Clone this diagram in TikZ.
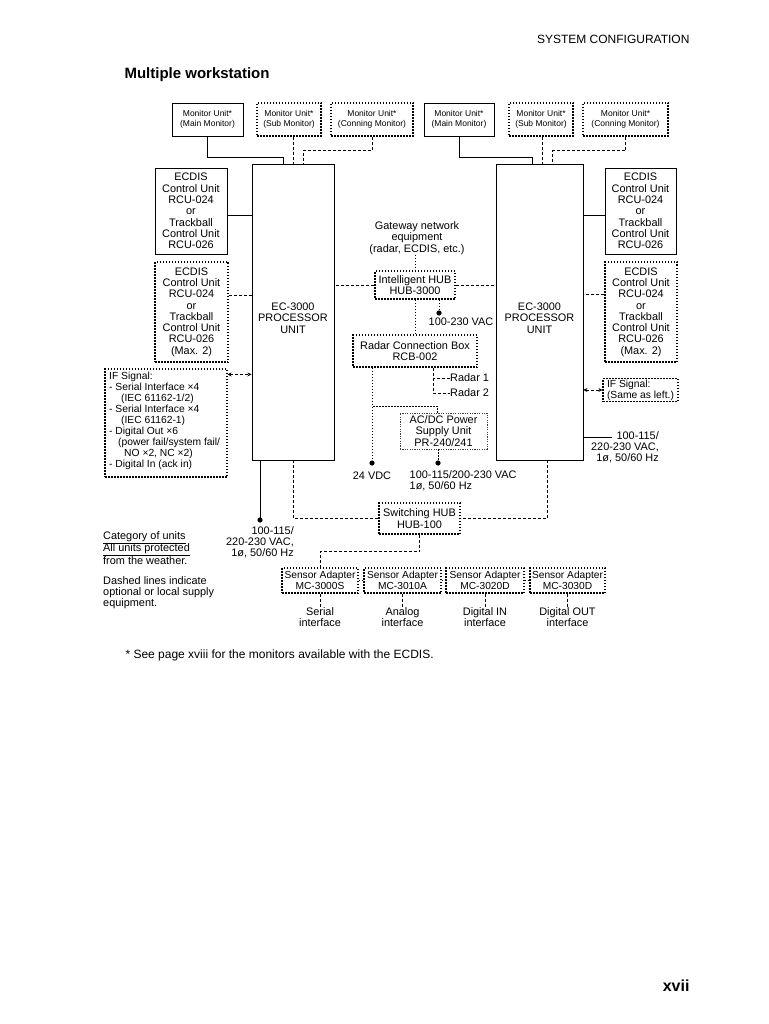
\documentclass[tikz,border=0pt]{standalone}
\usepackage{fontspec}
\setmainfont{Liberation Sans}
\usetikzlibrary{arrows.meta, positioning, calc}
\newcommand{\unitfont}{\fontsize{10.9}{11.3}\selectfont}
\newcommand{\monfont}{\fontsize{8.5}{9.6}\selectfont}

\begin{document}
\begin{tikzpicture}[
    x=1pt, y=-1pt,
    >={Stealth[length=4pt, width=4pt]},
    unitbox/.style={draw, line width=0.9pt, font=\unitfont, align=center, inner sep=1pt},
    optbox/.style={unitbox, line width=1.1pt, dash pattern=on 1.5pt off 1.5pt},
    monbox/.style={#1, font=\monfont, minimum height=33pt},
    sensbox/.style={optbox, inner sep=0pt, font=\fontsize{10.2}{11.2}\selectfont, minimum height=25pt},
    wire/.style={line width=0.9pt},
    dline/.style={line width=0.9pt, dash pattern=on 3pt off 2pt},
    dotline/.style={line width=0.9pt, dash pattern=on 1.5pt off 1.5pt},
    txt/.style={font=\unitfont, align=center, inner sep=0pt},
]
    \fill[white] (0,0) rectangle (768,1024);
    \useasboundingbox (0,0) rectangle (768,1024);

    % Page head
    \node[anchor=base east, font=\fontsize{12}{14}\selectfont] (hdr) at (693,44) {SYSTEM CONFIGURATION};
    \node[anchor=base west, font=\bfseries\fontsize{15}{18}\selectfont] (ttl) at (121,79) {Multiple workstation};

    % Monitors
    \node[monbox=unitbox, minimum width=71pt] (lmain) at (207.5,119.5) {Monitor Unit*\\(Main Monitor)};
    \node[monbox=optbox, minimum width=64pt] (lsub) at (289,119.5) {Monitor Unit*\\(Sub Monitor)};
    \node[monbox=optbox, minimum width=82pt] (lcon) at (372,119.5) {Monitor Unit*\\(Conning Monitor)};
    \node[monbox=unitbox, minimum width=70pt] (rmain) at (459,119.5) {Monitor Unit*\\(Main Monitor)};
    \node[monbox=optbox, minimum width=64pt] (rsub) at (541,119.5) {Monitor Unit*\\(Sub Monitor)};
    \node[monbox=optbox, minimum width=85pt] (rcon) at (625.5,119.5) {Monitor Unit*\\(Conning Monitor)};

    % Processor units
    \node[unitbox, minimum width=82pt, minimum height=296pt] (lproc) at (293,312) {};
    \node[txt] at (293,318) {EC-3000\\PROCESSOR\\UNIT};
    \node[unitbox, minimum width=87pt, minimum height=296pt] (rproc) at (539.5,312) {};
    \node[txt] at (539.5,318) {EC-3000\\PROCESSOR\\UNIT};

    \draw[wire] (lmain.south) -- ++(0,21) -| ([xshift=-10pt]lproc.north);
    \draw[dline] (lproc.north |- lsub.south) -- (lproc.north);
    \draw[dline] (lcon.south) -- ++(0,14) -| ([xshift=10pt]lproc.north);
    \draw[wire] (rmain.south) -- ++(0,21) -| ([xshift=-7pt]rproc.north);
    \draw[dline] ([xshift=3pt]rproc.north |- rsub.south) -- ([xshift=3pt]rproc.north);
    \draw[dline] (rcon.south) -- ++(0,14) -| ([xshift=13pt]rproc.north);

    % Control units, left
    \node[unitbox, minimum width=72pt, minimum height=86pt] (lecs) at (191,211)
        {ECDIS\\Control Unit\\RCU-024\\or\\Trackball\\Control Unit\\RCU-026};
    \node[optbox, minimum width=73pt, minimum height=100pt] (lecd) at (191.5,312)
        {ECDIS\\Control Unit\\RCU-024\\or\\Trackball\\Control Unit\\RCU-026\\(Max. 2)};
    \draw[wire] ([yshift=-4pt]lecs.east) -- ([yshift=-4pt]lecs.east -| lproc.west);
    \draw[dline] ([yshift=17pt]lecd.east) -- ([yshift=17pt]lecd.east -| lproc.west);

    % Control units, right
    \node[unitbox, minimum width=71pt, minimum height=86pt] (recs) at (640.5,211)
        {ECDIS\\Control Unit\\RCU-024\\or\\Trackball\\Control Unit\\RCU-026};
    \node[optbox, minimum width=72pt, minimum height=100pt] (recd) at (641,312)
        {ECDIS\\Control Unit\\RCU-024\\or\\Trackball\\Control Unit\\RCU-026\\(Max. 2)};
    \draw[wire] ([yshift=-4pt]recs.west) -- ([yshift=-4pt]recs.west -| rproc.east);
    \draw[dline] ([yshift=18pt]recd.west) -- ([yshift=18pt]recd.west -| rproc.east);

    % IF signals
    \node[optbox, minimum width=122pt, minimum height=108pt] (lif) at (166,423) {};
    \node[txt, align=left, anchor=north west, font=\fontsize{10.3}{11}\selectfont] (liftxt) at (109,372)
        {IF Signal:\\- Serial Interface ×4\\\hspace*{12pt}(IEC 61162-1/2)\\- Serial Interface ×4\\\hspace*{12pt}(IEC 61162-1)\\- Digital Out ×6\\\hspace*{9pt}(power fail/system fail/\\\hspace*{15pt}NO ×2, NC ×2)\\- Digital In (ack in)};
    \coordinate (lifa) at ([yshift=-6pt]lif.north east);
    \draw[dline, <->] (lifa) -- (lifa -| lproc.west);
    \node[optbox, align=left, font=\fontsize{10.3}{11}\selectfont, minimum width=75pt, minimum height=22pt] (rif) at (640.5,390) {IF Signal:\\(Same as left.)};
    \draw[dline, <->] (rproc.east |- rif.west) -- (rif.west);

    % Mains, right unit
    \node[txt, align=right, anchor=north east] (rpwr) at (659,431) {100-115/\\220-230 VAC,\\1ø, 50/60 Hz};
    \coordinate (rpwin) at (612,437);
    \draw[wire] (rpwin -| rproc.east) -- (rpwin);

    % Gateway and hubs
    \node[txt] (gw) at (417,238) {Gateway network\\equipment\\(radar, ECDIS, etc.)};
    \node[optbox, minimum width=80pt, minimum height=28pt] (ihub) at (415,285) {Intelligent HUB\\HUB-3000};
    \draw[dotline] (gw.south -| ihub.north) -- (ihub.north);
    \draw[dline] (ihub.west) -- (ihub.west -| lproc.east);
    \draw[dline] (ihub.east) -- (ihub.east -| rproc.west);
    \coordinate (hubpw) at (439,313);
    \draw[dotline] (hubpw |- ihub.south) -- (hubpw);
    \fill (hubpw) circle (2.6pt);
    \node[txt] (vac1) at (461,322) {100-230 VAC};

    % Radar connection box
    \node[optbox, minimum width=124pt, minimum height=32pt] (rcb) at (415,351) {Radar Connection Box\\RCB-002};
    \draw[dotline] (ihub.south) -- (rcb.north);
    \node[txt, anchor=west] (rad1) at (450,378) {Radar 1};
    \node[txt, anchor=west] (rad2) at (450,393) {Radar 2};
    \coordinate (rsplit) at ([xshift=18pt]rcb.south);
    \draw[dline] (rsplit) |- (rad2.west);
    \draw[dline] (rad1.west) -- (rad1.west -| rsplit);

    % Power supply
    \node[optbox, line width=0.9pt, dash pattern=on 1.2pt off 1.2pt, draw=black!75, minimum width=87pt, minimum height=36pt] (psu) at (443.5,431)
        {AC/DC Power\\Supply Unit\\PR-240/241};
    \coordinate (vdcpt) at (372,463);
    \draw[dotline] (vdcpt |- rcb.south) -- (vdcpt);
    \fill (vdcpt) circle (2.6pt);
    \node[txt] (vdc) at (372,476) {24 VDC};
    \coordinate (psuin) at ([xshift=-6pt]psu.north);
    \draw[dotline] (psuin) -- ++(0,-6) coordinate (psubend) -- (psubend -| vdcpt);
    \coordinate (psupw) at (438,463);
    \draw[dotline] (psupw |- psu.south) -- (psupw);
    \fill (psupw) circle (2.6pt);
    \node[txt, align=left, anchor=north west] (vac2) at (409.5,470) {100-115/200-230 VAC\\1ø, 50/60 Hz};

    % Mains, left unit
    \coordinate (lpwdot) at (260,520);
    \draw[wire] (lpwdot |- lproc.south) -- (lpwdot);
    \fill (lpwdot) circle (2.6pt);
    \node[txt, align=right, anchor=north east] (lpwr) at (294,526) {100-115/\\220-230 VAC,\\1ø, 50/60 Hz};

    % Switching hub and sensor adapters
    \node[optbox, minimum width=81pt, minimum height=31pt] (shub) at (419.5,518.5) {Switching HUB\\HUB-100};
    \draw[dline] (lproc.south) |- (shub.west);
    \draw[dline] ([xshift=8pt]rproc.south) |- (shub.east);

    \node[sensbox, minimum width=76pt] (sa1) at (320,580.5) {Sensor Adapter\\MC-3000S};
    \node[sensbox, minimum width=77pt] (sa2) at (402.5,580.5) {Sensor Adapter\\MC-3010A};
    \node[sensbox, minimum width=78pt] (sa3) at (485,580.5) {Sensor Adapter\\MC-3020D};
    \node[sensbox, minimum width=75pt] (sa4) at (567.5,580.5) {Sensor Adapter\\MC-3030D};
    \draw[dline] (shub.south) -- ++(0,17) -| (sa1.north);
    \draw[dotline] (sa1.east) -- (sa2.west);
    \draw[dotline] (sa2.east) -- (sa3.west);
    \draw[dotline] (sa3.east) -- (sa4.west);

    \node[txt, anchor=north] (if1) at (320,607) {Serial\\interface};
    \node[txt, anchor=north] (if2) at (402.5,607) {Analog\\interface};
    \node[txt, anchor=north] (if3) at (485,607) {Digital IN\\interface};
    \node[txt, anchor=north] (if4) at (567.5,607) {Digital OUT\\interface};
    \foreach \i in {1,...,4}
        \draw[dline] (sa\i.south) -- (if\i.north);

    % Legend
    \node[txt, align=left, anchor=north west] (cat) at (103,531)
        {\underline{Category of units}\\[-0.5pt]\underline{All units protected}\\[-0.5pt]from the weather.};
    \node[txt, align=left, anchor=north west] (note) at (103,576)
        {Dashed lines indicate\\optional or local supply\\equipment.};

    % Footnote and page number
    \node[anchor=base west, font=\fontsize{12}{14}\selectfont] (fn) at (122,658) {* See page xviii for the monitors available with the ECDIS.};
    \node[anchor=base east, font=\bfseries\fontsize{16}{18}\selectfont] (pg) at (693,991) {xvii};
\end{tikzpicture}
\end{document}
